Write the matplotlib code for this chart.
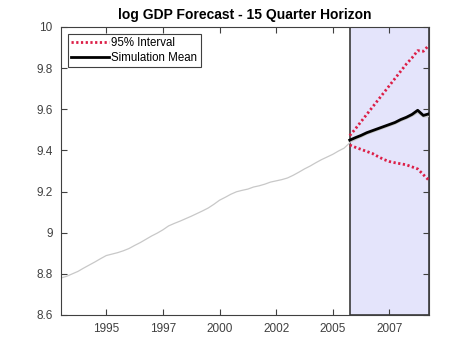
import matplotlib as mpl
mpl.use("Agg")
import matplotlib.pyplot as plt
import numpy as np

plt.rcParams['font.family'] = ['Liberation Sans', 'DejaVu Sans']

# quarterly log GDP, 1993Q1 .. 2005Q4
hist = [8.780, 8.788, 8.800, 8.812, 8.828, 8.843, 8.858, 8.874,
        8.889, 8.896, 8.903, 8.912, 8.923, 8.938, 8.952, 8.968,
        8.984, 8.998, 9.014, 9.033, 9.045, 9.056, 9.068, 9.080,
        9.093, 9.106, 9.120, 9.138, 9.158, 9.172, 9.187, 9.199,
        9.206, 9.212, 9.222, 9.228, 9.236, 9.246, 9.252, 9.258,
        9.266, 9.279, 9.294, 9.310, 9.324, 9.340, 9.355, 9.368,
        9.381, 9.397, 9.411, 9.437]
hist_start = 1993.0

# forecast, 15 quarters from 2005Q4
fc_start = 2005.75
actual_fc = [9.440, 9.452, 9.464, 9.478, 9.488, 9.498, 9.508, 9.518,
             9.528, 9.542, 9.553, 9.566, 9.583, 9.562, 9.565]
mean_fc = [9.450, 9.462, 9.473, 9.486, 9.496, 9.506, 9.516, 9.526,
           9.536, 9.550, 9.561, 9.575, 9.595, 9.570, 9.578]
upper_fc = [9.472, 9.505, 9.540, 9.575, 9.610, 9.645, 9.680, 9.715,
            9.750, 9.785, 9.820, 9.850, 9.885, 9.882, 9.912]
lower_fc = [9.426, 9.415, 9.405, 9.395, 9.385, 9.370, 9.356, 9.346,
            9.340, 9.335, 9.330, 9.320, 9.310, 9.282, 9.254]

xtick_pos = [1995, 1997.5, 2000, 2002.5, 2005, 2007.5]
xtick_lab = ['1995', '1997', '2000', '2002', '2005', '2007']

t_hist = hist_start + 0.25 * np.arange(len(hist))
t_fc = fc_start + 0.25 * np.arange(len(mean_fc))

fig = plt.figure(figsize=(4.74, 3.55), dpi=100)
ax = fig.add_axes([0.1287, 0.1127, 0.7764, 0.8113])

ax.axvspan(t_fc[0], t_fc[-1], facecolor='#e4e4fb', edgecolor='#3a3a3a',
           linewidth=1.2, zorder=0)

red = '#dc1e46'
dots = (0, (0.8, 0.9))
ax.plot(t_hist, hist, color='#c8c8c8', linewidth=0.9)
ax.plot(t_fc, actual_fc, color='#c8c8c8', linewidth=0.9)
ax.plot(t_fc, upper_fc, color=red, linestyle=dots, linewidth=2.0,
        label='95% Interval')
ax.plot(t_fc, lower_fc, color=red, linestyle=dots, linewidth=2.0)
ax.plot(t_fc, mean_fc, color='black', linewidth=2.0, label='Simulation Mean')

ax.set_xlim(hist_start, t_fc[-1])
ax.set_ylim(8.6, 10)
ax.set_xticks(xtick_pos)
ax.set_xticklabels(xtick_lab)
ax.set_yticks([8.6, 8.8, 9, 9.2, 9.4, 9.6, 9.8, 10])
ax.set_yticklabels(['8.6', '8.8', '9', '9.2', '9.4', '9.6', '9.8', '10'])
ax.tick_params(direction='in', top=True, right=True, length=4,
               labelsize=8.5, colors='#404040', pad=6)
for s in ax.spines.values():
    s.set_color('#404040')
    s.set_linewidth(0.8)

ax.set_title('log GDP Forecast - 15 Quarter Horizon', fontsize=10,
             fontweight='bold', pad=6)

leg = ax.legend(loc='upper left', fontsize=8.3, handlelength=3.3,
                handletextpad=0.15, borderpad=0.3, labelspacing=0.2,
                fancybox=False, framealpha=1, borderaxespad=0.6)
leg.get_frame().set_edgecolor('#404040')
leg.get_frame().set_linewidth(0.8)

fig.savefig('out.png', dpi=100)
